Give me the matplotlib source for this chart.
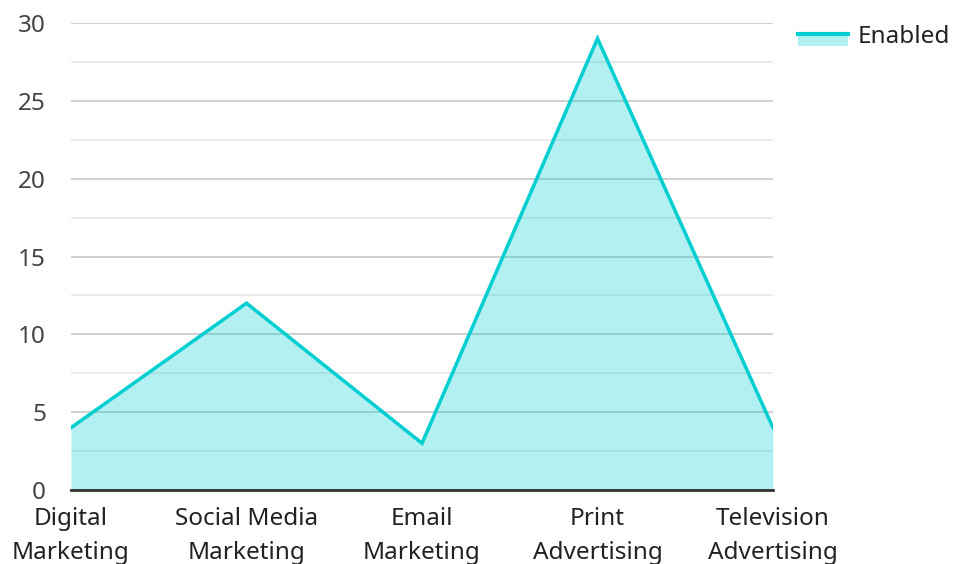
import matplotlib
matplotlib.use("Agg")
import matplotlib.pyplot as plt
from matplotlib.patches import Rectangle
from matplotlib.lines import Line2D
from matplotlib.legend_handler import HandlerBase

plt.rcParams['font.family'] = ['Noto Sans', 'DejaVu Sans']

categories = ["Digital\nMarketing", "Social Media\nMarketing", "Email\nMarketing",
              "Print\nAdvertising", "Television\nAdvertising"]
enabled = [4, 12, 3, 29, 4]
series_name = "Enabled"
y_ticks = [0, 5, 10, 15, 20, 25, 30]

LINE = "#00CED1"
FILL_ALPHA = 0.3
FS = 17.5

fig = plt.figure(figsize=(9.54, 5.64), dpi=100)
ax = fig.add_axes([71/954, 1-490/564, (773-71)/954, (490-23)/564])

x = list(range(len(categories)))
ax.fill_between(x, enabled, 0, color=LINE, alpha=FILL_ALPHA, linewidth=0, zorder=2)
ax.plot(x, enabled, color=LINE, linewidth=2.5, zorder=3, solid_joinstyle='miter')

ax.set_xlim(0, len(categories)-1)
ax.set_ylim(0, 30)
ax.set_yticks(y_ticks)
ax.set_yticks([v + 2.5 for v in y_ticks[:-1]], minor=True)
ax.set_xticks(x)
ax.set_xticklabels(categories, linespacing=1.55, va='top')

ax.grid(True, which='major', axis='y', color='#c8c8c8', linewidth=1.2, zorder=0)
ax.grid(True, which='minor', axis='y', color='#e8e8e8', linewidth=1.2, zorder=0)
ax.set_axisbelow(True)

for s in ['top', 'right', 'left']:
    ax.spines[s].set_visible(False)
ax.spines['bottom'].set_color('#333333')
ax.spines['bottom'].set_linewidth(2)
ax.spines['bottom'].set_zorder(4)

ax.tick_params(axis='y', which='both', length=0, pad=18, labelsize=FS, labelcolor='#444444')
ax.tick_params(axis='x', length=0, pad=12, labelsize=FS, labelcolor='#222222')


class AreaHandler(HandlerBase):
    def create_artists(self, legend, orig_handle, xdescent, ydescent, width, height, fontsize, trans):
        mid = height * 0.5
        depth = 8.6  # points
        rect = Rectangle((-xdescent, -ydescent + mid - depth), width, depth,
                         facecolor=LINE, alpha=FILL_ALPHA, edgecolor='none', transform=trans)
        line = Line2D([-xdescent, -xdescent + width], [-ydescent + mid, -ydescent + mid],
                      color=LINE, linewidth=3, transform=trans)
        return [rect, line]


handle = Rectangle((0, 0), 1, 1)
leg = fig.legend([handle], [series_name], handler_map={Rectangle: AreaHandler()},
                 loc='upper left', bbox_to_anchor=(798/954, 1-25/564), frameon=False,
                 fontsize=FS, handlelength=36/FS, handletextpad=7/FS, borderpad=0, borderaxespad=0)
for t in leg.get_texts():
    t.set_color('#222222')

fig.savefig("out.png", dpi=100)
